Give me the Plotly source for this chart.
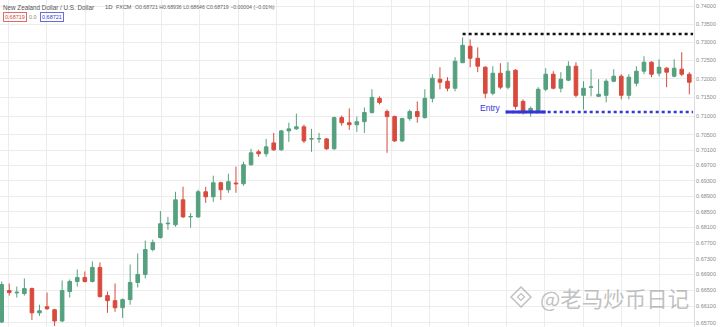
import plotly.graph_objects as go
import math

# ---- data (NZD/USD daily candles) ----
opens = [0.65717, 0.66499, 0.66440, 0.66423, 0.66549, 0.65944, 0.66096, 0.66020, 0.65743, 0.66474,
         0.66726, 0.66827, 0.66726, 0.67079, 0.66373, 0.66247, 0.66071, 0.66272, 0.66701, 0.66902,
         0.67532, 0.67835, 0.68188, 0.68162, 0.68804, 0.68364, 0.68364, 0.69012, 0.68882, 0.69247,
         0.69065, 0.69240, 0.69221, 0.69717, 0.70056, 0.70004, 0.70291, 0.70109, 0.70609, 0.70663,
         0.70717, 0.70396, 0.70396, 0.70396, 0.70135, 0.70962, 0.70826, 0.70772, 0.70853, 0.71097,
         0.71477, 0.71124, 0.70989, 0.70343, 0.70935, 0.71124, 0.70962, 0.71477, 0.71993, 0.71938,
         0.71749, 0.72440, 0.72888, 0.72562, 0.72318, 0.71613, 0.72155, 0.71776, 0.72237, 0.71396,
         0.71124, 0.71152, 0.71721, 0.72128, 0.71749, 0.71966, 0.72345, 0.71559, 0.71776, 0.71531,
         0.71559, 0.71938, 0.72074, 0.71559, 0.71884, 0.72210, 0.72454, 0.72155, 0.72291, 0.72074,
         0.72264, 0.72128, 0.71911]
highs = [0.66726, 0.66675, 0.66600, 0.66802, 0.66575, 0.66146, 0.66449, 0.66045, 0.66751, 0.66776,
         0.67028, 0.66978, 0.67230, 0.67205, 0.66474, 0.66675, 0.66300, 0.67154, 0.67432, 0.67759,
         0.67784, 0.68517, 0.68364, 0.69012, 0.69143, 0.68465, 0.69065, 0.69143, 0.69430, 0.69273,
         0.69482, 0.69665, 0.69795, 0.70135, 0.70109, 0.70396, 0.70555, 0.70636, 0.70826, 0.71070,
         0.70772, 0.70663, 0.70555, 0.70420, 0.70989, 0.71016, 0.71206, 0.70989, 0.71233, 0.71721,
         0.71531, 0.71179, 0.71016, 0.70962, 0.71179, 0.71396, 0.71721, 0.72128, 0.72318, 0.72047,
         0.72589, 0.73132, 0.73078, 0.72861, 0.72345, 0.72345, 0.72427, 0.72454, 0.72264, 0.71450,
         0.71260, 0.71776, 0.72291, 0.72210, 0.72183, 0.72481, 0.72454, 0.71938, 0.72264, 0.71993,
         0.71993, 0.72264, 0.72128, 0.72128, 0.72345, 0.72616, 0.72481, 0.72535, 0.72318, 0.72535,
         0.72725, 0.72183, 0.72237]
lows = [0.65692, 0.66373, 0.66323, 0.66373, 0.65768, 0.65869, 0.66020, 0.65617, 0.65717, 0.66323,
        0.66600, 0.66701, 0.66701, 0.66323, 0.65944, 0.65970, 0.65818, 0.66146, 0.66575, 0.66802,
        0.67482, 0.67810, 0.68036, 0.68112, 0.68339, 0.68087, 0.68339, 0.68725, 0.68751, 0.68804,
        0.68986, 0.68986, 0.69169, 0.69691, 0.69926, 0.69926, 0.70082, 0.70082, 0.70317, 0.70636,
        0.70291, 0.70056, 0.70291, 0.70109, 0.70109, 0.70745, 0.70636, 0.70582, 0.70555, 0.71070,
        0.71314, 0.70030, 0.70317, 0.70317, 0.70880, 0.70826, 0.70935, 0.71369, 0.71721, 0.71667,
        0.71667, 0.72440, 0.72318, 0.72183, 0.71477, 0.71559, 0.71721, 0.71721, 0.71179, 0.71043,
        0.70989, 0.71124, 0.71667, 0.71721, 0.71640, 0.71938, 0.71504, 0.71179, 0.71531, 0.71520,
        0.71369, 0.71911, 0.71450, 0.71450, 0.71803, 0.72128, 0.72047, 0.72074, 0.71776, 0.72047,
        0.72074, 0.71586, 0.71830]
closes = [0.66650, 0.66449, 0.66455, 0.66549, 0.65944, 0.65995, 0.66045, 0.65743, 0.66499, 0.66726,
          0.66827, 0.66726, 0.67079, 0.66348, 0.66247, 0.66071, 0.66272, 0.66701, 0.66902, 0.67532,
          0.67709, 0.68188, 0.68200, 0.68804, 0.68364, 0.68375, 0.69012, 0.68882, 0.69247, 0.69065,
          0.69273, 0.69221, 0.69717, 0.70030, 0.70004, 0.70187, 0.70109, 0.70609, 0.70663, 0.70717,
          0.70343, 0.70400, 0.70405, 0.70135, 0.70962, 0.70826, 0.70772, 0.70853, 0.71097, 0.71504,
          0.71369, 0.70989, 0.70343, 0.70935, 0.71124, 0.70989, 0.71477, 0.72020, 0.71911, 0.71749,
          0.72481, 0.72915, 0.72562, 0.72345, 0.71613, 0.72155, 0.71776, 0.72210, 0.71260, 0.71152,
          0.71206, 0.71721, 0.72128, 0.71749, 0.71993, 0.72345, 0.71559, 0.71749, 0.71785, 0.71586,
          0.71938, 0.72074, 0.71559, 0.72047, 0.72210, 0.72454, 0.72128, 0.72318, 0.72183, 0.72291,
          0.72128, 0.71911, 0.72210]
bars = list(range(len(opens)))

resistance_level = 0.73227
resistance_start = 61
entry_level = 0.71111
entry_start = 66.7
entry_solid_end = 72.0
line_end = 91.5

tick_vals = [0.740, 0.735, 0.730, 0.725, 0.720, 0.715, 0.710, 0.705, 0.701, 0.697,
             0.693, 0.689, 0.685, 0.681, 0.677, 0.673, 0.669, 0.665, 0.661, 0.657]
tick_text = ["%.5f" % v for v in tick_vals]

pair_text = "New Zealand Dollar / U.S. Dollar"
interval_text = "1D"
source_text = "FXCM"
ohlc_text = "O0.68721 H0.68936 L0.68646 C0.68719 \u22120.00004 (\u22120.01%)"
bid_text = "0.68719"
spread_text = "0.0"
ask_text = "0.68721"
watermark = "@老马炒币日记"

GREEN = "#55a07f"
RED = "#d84a3d"
BLUE = "#3535d8"
WM = "rgba(165,165,165,0.7)"
PW, PH = 694.0, 327.0

fig = go.Figure()

fig.add_trace(go.Candlestick(
    x=bars, open=opens, high=highs, low=lows, close=closes,
    increasing=dict(line=dict(color=GREEN, width=1), fillcolor=GREEN),
    decreasing=dict(line=dict(color=RED, width=1), fillcolor=RED),
    whiskerwidth=0, showlegend=False, hoverinfo="skip",
))

# resistance (black dotted)
fig.add_trace(go.Scatter(x=[resistance_start, line_end], y=[resistance_level, resistance_level],
                         mode="lines", line=dict(color="#111111", width=2.4, dash="dot"),
                         showlegend=False, hoverinfo="skip"))
# entry level (blue dotted + solid piece)
fig.add_trace(go.Scatter(x=[entry_start, line_end], y=[entry_level, entry_level],
                         mode="lines", line=dict(color=BLUE, width=2.4, dash="dot"),
                         showlegend=False, hoverinfo="skip"))
fig.add_trace(go.Scatter(x=[entry_start, entry_solid_end], y=[entry_level, entry_level],
                         mode="lines", line=dict(color=BLUE, width=3),
                         showlegend=False, hoverinfo="skip"))

def hdr(px, text, size, color):
    return dict(x=px / PW, y=1 - 7 / PH, xref="paper", yref="paper", text=text, showarrow=False,
                xanchor="left", yanchor="middle", font=dict(family="Liberation Sans", size=size, color=color))

annotations = [
    dict(x=entry_start - 0.3, y=math.log10(entry_level), xref="x", yref="y", text="Entry",
         showarrow=False, xanchor="right", yanchor="bottom", yshift=-3,
         font=dict(family="Liberation Sans", size=8.5, color=BLUE)),
    hdr(1, pair_text, 6.3, "#555555"),
    hdr(103, interval_text, 6.0, "#555555"),
    hdr(114, source_text, 5.4, "#555555"),
    hdr(133, ohlc_text, 5.2, "#666666"),
    dict(x=14.5 / PW, y=1 - 17 / PH, xref="paper", yref="paper", text=bid_text, showarrow=False,
         xanchor="center", yanchor="middle", bordercolor="#e06b63", borderwidth=1, borderpad=1,
         font=dict(family="Liberation Sans", size=5.5, color=RED)),
    dict(x=33 / PW, y=1 - 17 / PH, xref="paper", yref="paper", text=spread_text, showarrow=False,
         xanchor="center", yanchor="middle", font=dict(family="Liberation Sans", size=5.5, color="#888888")),
    dict(x=52 / PW, y=1 - 17 / PH, xref="paper", yref="paper", text=ask_text, showarrow=False,
         xanchor="center", yanchor="middle", bordercolor="#6a6ae0", borderwidth=1, borderpad=1,
         font=dict(family="Liberation Sans", size=5.5, color=BLUE)),
    dict(x=538 / PW, y=1 - 297 / PH, xref="paper", yref="paper", text=watermark, showarrow=False,
         xanchor="left", yanchor="middle",
         font=dict(family="Noto Sans CJK SC", size=21.5, color=WM)),
]

# watermark logo (diamond outline)
cx, cy, r = 521.0, 297.0, 10.0
def P(px, py):
    return "%f %f" % (px / PW, 1 - py / PH)
shapes = [
    dict(type="path", xref="paper", yref="paper",
         path="M %s L %s L %s L %s Z" % (P(cx, cy - r), P(cx + r, cy), P(cx, cy + r), P(cx - r, cy)),
         line=dict(color=WM, width=1.5)),
    dict(type="path", xref="paper", yref="paper",
         path="M %s L %s L %s L %s Z" % (P(cx, cy - 3.5), P(cx + 3.5, cy), P(cx, cy + 3.5), P(cx - 3.5, cy)),
         line=dict(color=WM, width=1.2)),
]

x0 = -0.225
x1 = x0 + PW / 7.556
ytop = 10 ** (-0.129789)
ybot = 10 ** (-0.183133)

fig.update_layout(
    width=720, height=327,
    margin=dict(l=0, r=26, t=0, b=0),
    paper_bgcolor="white", plot_bgcolor="white",
    boxgap=0.32,
    annotations=annotations, shapes=shapes,
    xaxis=dict(range=[x0, x1], rangeslider=dict(visible=False), showticklabels=False,
               showgrid=True, gridcolor="#ececec", gridwidth=1, tick0=5.96, dtick=5.07,
               zeroline=False, showline=False, fixedrange=True),
    yaxis=dict(type="log", range=[math.log10(ybot), math.log10(ytop)], side="right",
               tickvals=tick_vals, ticktext=tick_text, showgrid=True, gridcolor="#ececec",
               gridwidth=1, showline=True, linecolor="#dcdcdc", linewidth=1, zeroline=False,
               tickfont=dict(family="Liberation Sans", size=5.5, color="#8a8a8a"),
               ticks="", fixedrange=True),
    font=dict(family="Liberation Sans"),
)

fig.write_html("out.html")
